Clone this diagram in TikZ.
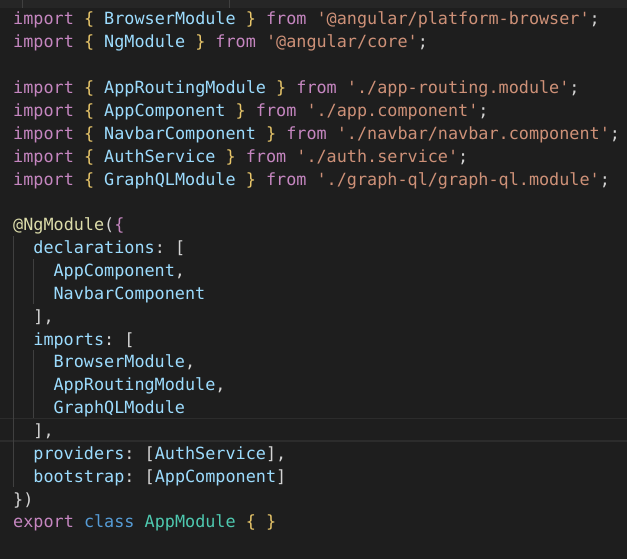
\documentclass[tikz,border=0pt]{standalone}
\usepackage{fontspec}
\setmonofont{DejaVu Sans Mono}
\definecolor{bg}{HTML}{1E1E1E}
\definecolor{kw}{HTML}{C586C0}
\definecolor{id}{HTML}{9CDCFE}
\definecolor{st}{HTML}{CE9178}
\definecolor{br}{HTML}{E8C66A}
\definecolor{pu}{HTML}{D4D4D4}
\definecolor{fn}{HTML}{DCDCAA}
\definecolor{cl}{HTML}{569CD6}
\definecolor{ty}{HTML}{4EC9B0}
\definecolor{b2}{HTML}{D4D4D4}
\definecolor{b3}{HTML}{D4D4D4}
\definecolor{guide}{HTML}{404040}
\definecolor{hl}{HTML}{2C2C2C}
\newcommand\K[1]{\textcolor{kw}{#1}}
\newcommand\I[1]{\textcolor{id}{#1}}
\newcommand\Sq[1]{\textcolor{st}{#1}}
\newcommand\B[1]{\textcolor{br}{#1}}
\newcommand\Pn[1]{\textcolor{pu}{#1}}
\tikzset{ln/.style={anchor=base west,inner sep=0pt,font=\fontsize{16.8}{20}\ttfamily}}
\begin{document}
\begin{tikzpicture}[x=1pt,y=-1pt]
\fill[bg] (0,0) rectangle (627,559);
\useasboundingbox (0,0) rectangle (627,559);
\fill[black!85] (0,0) rectangle (627,8);
\draw[guide] (22.5,0) -- (22.5,8) (229.5,0) -- (229.5,8);
\draw[hl,line width=1.5pt] (0,418.5) -- (627,418.5) (0,441) -- (627,441);
\draw[guide] (13.5,236) -- (13.5,487);
\draw[guide] (33.5,259) -- (33.5,304) (33.5,350) -- (33.5,418);
\def\Y#1{\fpeval{18+7+(#1-1)*22.86}}
\node[ln] (l1) at (13,\Y1) {\K{import} \B{\{} \I{BrowserModule} \B{\}} \K{from} \Sq{'@angular/platform-browser'}\Pn{;}};
\node[ln] (l2) at (13,\Y2) {\K{import} \B{\{} \I{NgModule} \B{\}} \K{from} \Sq{'@angular/core'}\Pn{;}};
\node[ln] (l4) at (13,\Y4) {\K{import} \B{\{} \I{AppRoutingModule} \B{\}} \K{from} \Sq{'./app-routing.module'}\Pn{;}};
\node[ln] (l5) at (13,\Y5) {\K{import} \B{\{} \I{AppComponent} \B{\}} \K{from} \Sq{'./app.component'}\Pn{;}};
\node[ln] (l6) at (13,\Y6) {\K{import} \B{\{} \I{NavbarComponent} \B{\}} \K{from} \Sq{'./navbar/navbar.component'}\Pn{;}};
\node[ln] (l7) at (13,\Y7) {\K{import} \B{\{} \I{AuthService} \B{\}} \K{from} \Sq{'./auth.service'}\Pn{;}};
\node[ln] (l8) at (13,\Y8) {\K{import} \B{\{} \I{GraphQLModule} \B{\}} \K{from} \Sq{'./graph-ql/graph-ql.module'}\Pn{;}};
\node[ln] (l10) at (13,\Y{10}) {\textcolor{fn}{@NgModule}\Pn{(}\textcolor{kw}{\{}};
\node[ln] (l11) at (33.2,\Y{11}) {\I{declarations}\Pn{:} \textcolor{b3}{[}};
\node[ln] (l12) at (53.4,\Y{12}) {\I{AppComponent}\Pn{,}};
\node[ln] (l13) at (53.4,\Y{13}) {\I{NavbarComponent}};
\node[ln] (l14) at (33.2,\Y{14}) {\textcolor{b3}{]}\Pn{,}};
\node[ln] (l15) at (33.2,\Y{15}) {\I{imports}\Pn{:} \textcolor{b3}{[}};
\node[ln] (l16) at (53.4,\Y{16}) {\I{BrowserModule}\Pn{,}};
\node[ln] (l17) at (53.4,\Y{17}) {\I{AppRoutingModule}\Pn{,}};
\node[ln] (l18) at (53.4,\Y{18}) {\I{GraphQLModule}};
\node[ln] (l19) at (33.2,\Y{19}) {\textcolor{b3}{]}\Pn{,}};
\node[ln] (l20) at (33.2,\Y{20}) {\I{providers}\Pn{:} \textcolor{b3}{[}\I{AuthService}\textcolor{b3}{]}\Pn{,}};
\node[ln] (l21) at (33.2,\Y{21}) {\I{bootstrap}\Pn{:} \textcolor{b3}{[}\I{AppComponent}\textcolor{b3}{]}};
\node[ln] (l22) at (13,\Y{22}) {\textcolor{b2}{\})}};
\node[ln] (l23) at (13,\Y{23}) {\K{export} \textcolor{cl}{class} \textcolor{ty}{AppModule} \B{\{} \B{\}}};
\end{tikzpicture}
\end{document}
